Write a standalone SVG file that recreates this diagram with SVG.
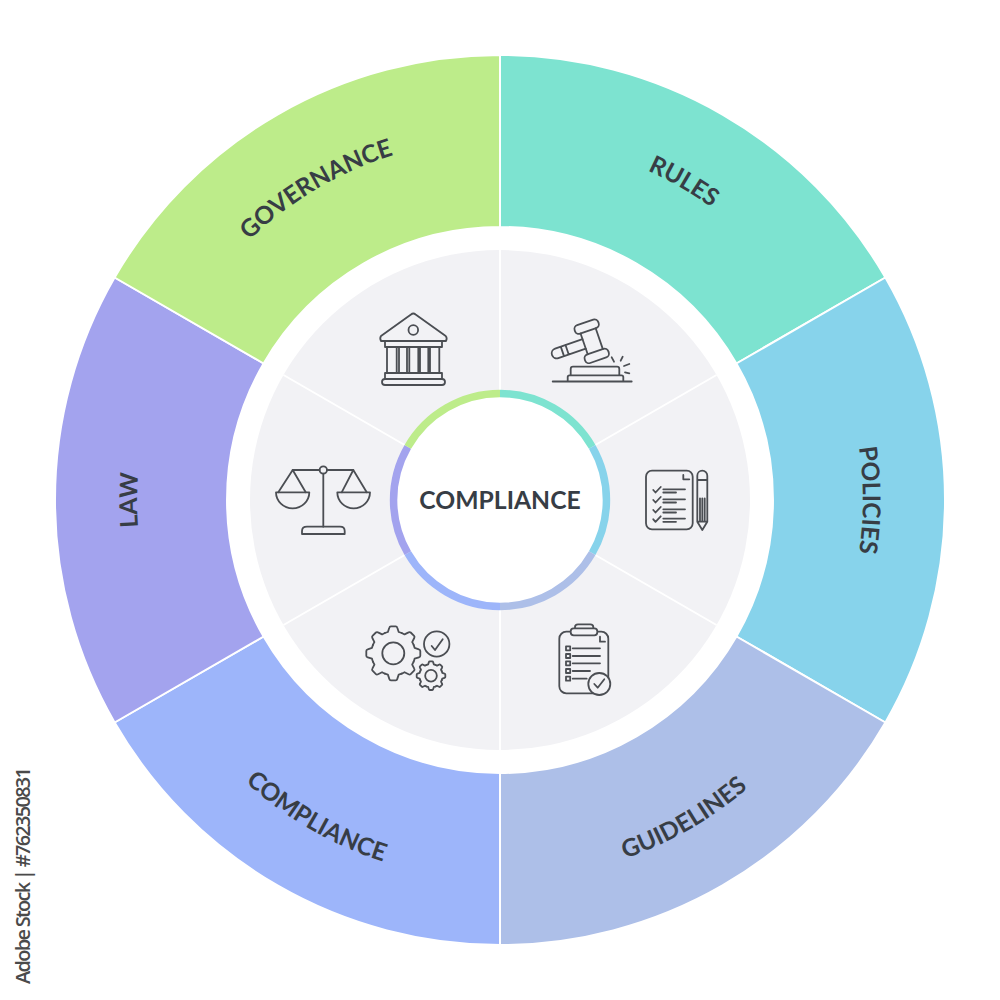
<svg xmlns="http://www.w3.org/2000/svg" xmlns:xlink="http://www.w3.org/1999/xlink" width="1000" height="1000" viewBox="0 0 1000 1000">
<style>
.lbl{font-family:"Lato","Liberation Sans",sans-serif;font-weight:700;font-size:24.5px;fill:#373d45;text-anchor:middle}
.ic{fill:none;stroke:#4b4e53;stroke-width:1.8;stroke-linejoin:round;stroke-linecap:round}
.ring{fill:none;stroke-width:7.5}
.sep{stroke:#fff;stroke-width:2;fill:none}
</style>
<defs>
<path id="a1" d="M193.9 308.7A361 361 0 0 1 487.4 139.2"/>
<path id="a2" d="M512.6 139.2A361 361 0 0 1 806.1 308.7"/>
<path id="a3" d="M820.5 329.8A363 363 0 0 1 820.5 670.2"/>
<path id="a4" d="M513.3 879.8A380 380 0 0 0 822.2 701.4"/>
<path id="a5" d="M177.8 701.4A380 380 0 0 0 486.7 879.8"/>
<path id="a6" d="M179.5 670.2A363 363 0 0 1 179.5 329.8"/>
<path id="tooth" d="M-8.42 -20.33A22 22 0 0 1 -5.4 -21.3L-4 -25.6Q-3.6 -27 -2.4 -27H2.4Q3.6 -27 4 -25.6L5.4 -21.3A22 22 0 0 1 8.42 -20.33"/>
<g id="gear">
<use href="#tooth"/><use href="#tooth" transform="rotate(45)"/><use href="#tooth" transform="rotate(90)"/><use href="#tooth" transform="rotate(135)"/><use href="#tooth" transform="rotate(180)"/><use href="#tooth" transform="rotate(225)"/><use href="#tooth" transform="rotate(270)"/><use href="#tooth" transform="rotate(315)"/>
<circle r="11"/>
</g>
</defs>
<rect width="1000" height="1000" fill="#fff"/>
<circle cx="500" cy="500" r="250" fill="#f2f2f5"/>

<g id="connectors" class="sep">
<path d="M500 250V390M716.5 375L595.3 445M716.5 625L595.3 555M500 750V610M283.5 625L404.7 555M283.5 375L404.7 445"/>
</g>

<circle cx="500" cy="500" r="104" fill="#fff"/>

<g id="rules">
<path d="M500 55A445 445 0 0 1 885.4 277.5L736.4 363.5A273 273 0 0 0 500 227Z" fill="#7de3d0" stroke="#fff" stroke-width="2"/>
<path class="ring" stroke="#7de3d0" d="M500 393.5A106.5 106.5 0 0 1 592.2 446.8"/>
<text class="lbl"><textPath href="#a2" startOffset="50%">RULES</textPath></text>
<g class="ic">
<g transform="translate(591.7 341.3) rotate(-19)">
<rect x="-12.5" y="-20" width="25" height="9" rx="4"/>
<rect x="-12.5" y="11" width="25" height="9" rx="4"/>
<path d="M-8 -11V11M8 -11V11"/>
<path d="M-8 -5H-37A5 5 0 0 0 -37 5H-8M-31 -5V5M-26 -5V5"/>
</g>
<path d="M567.7 381V377Q567.7 375.3 569.5 375.3H621.5Q623.3 375.3 623.3 377V381M570.7 375.3V369Q570.7 366.7 573 366.7H617Q619.3 366.7 619.3 369V375.3M552.7 381.5H631.7"/>
<path d="M611.7 357.3L614 361.7M622.7 356.7L620.7 360.7M629.3 364L624 366M629.3 373.3L625 372.3"/>
</g>
</g>

<g id="policies">
<path d="M885.4 277.5A445 445 0 0 1 885.4 722.5L736.4 636.5A273 273 0 0 0 736.4 363.5Z" fill="#87d3eb" stroke="#fff" stroke-width="2"/>
<path class="ring" stroke="#87d3eb" d="M592.2 446.8A106.5 106.5 0 0 1 592.2 553.2"/>
<text class="lbl"><textPath href="#a3" startOffset="50%">POLICIES</textPath></text>
<g class="ic">
<rect x="646" y="470.7" width="46.7" height="58.6" rx="6"/>
<path d="M683.3 475V479.3H689.3"/>
<path d="M653.3 490L655.5 492.5L660.7 487M653.3 500L655.5 502.5L660.7 497M653.3 510L655.5 512.5L660.7 507M653.3 519.3L655.5 521.8L660.7 516.3"/>
<path d="M663.3 489.3H685M663.3 492.5H676M663.3 499.3H685M663.3 502.5H676M663.3 509.3H685M663.3 512.5H676M663.3 518.6H685M663.3 521.8H676"/>
<path d="M697.3 521.7V475.7A5 5 0 0 1 707.3 475.7V521.7L702.3 530ZM697.3 480H707.3M697.3 521.7H707.3M700 498.3V521.7M702.3 498.3V521.7M704.7 498.3V521.7"/>
</g>
</g>

<g id="guidelines">
<path d="M885.4 722.5A445 445 0 0 1 500 945V773A273 273 0 0 0 736.4 636.5Z" fill="#adbfe8" stroke="#fff" stroke-width="2"/>
<path class="ring" stroke="#adbfe8" d="M592.2 553.2A106.5 106.5 0 0 1 500 606.5"/>
<text class="lbl"><textPath href="#a4" startOffset="50%">GUIDELINES</textPath></text>
<g class="ic">
<rect x="559.3" y="631.7" width="49" height="61.6" rx="7"/>
<path d="M575 632V627Q575 624.3 578 624.3H590.3Q593.3 624.3 593.3 627V632" fill="#f2f2f5"/>
<rect x="570.7" y="628.3" width="26.6" height="7" rx="3" fill="#f2f2f5"/>
<path d="M600 636.7V641.7H605"/>
<rect x="566" y="646.3" width="4.2" height="4"/><rect x="566" y="654" width="4.2" height="4"/><rect x="566" y="661.3" width="4.2" height="4"/><rect x="566" y="669" width="4.2" height="4"/><rect x="566" y="676.7" width="4.2" height="4"/>
<path d="M572.7 648.3H600M572.7 656H600M572.7 663.3H600M572.7 671H590M572.7 678.7H586.7"/>
<circle cx="599.3" cy="684" r="11" fill="#f2f2f5"/>
<path d="M594.3 684L597.7 687.7L604.3 679.3"/>
</g>
</g>

<g id="compliance">
<path d="M500 945A445 445 0 0 1 114.6 722.5L263.6 636.5A273 273 0 0 0 500 773Z" fill="#9db5fa" stroke="#fff" stroke-width="2"/>
<path class="ring" stroke="#9db5fa" d="M500 606.5A106.5 106.5 0 0 1 407.8 553.2"/>
<text class="lbl"><textPath href="#a5" startOffset="50%">COMPLIANCE</textPath></text>
<g class="ic">
<use href="#gear" transform="translate(393.3 653.3)"/>
<use href="#gear" transform="translate(431 675.7) scale(.53)" stroke-width="3.4"/>
<circle cx="436.7" cy="644" r="12.7"/>
<path d="M431.7 646L435 650L442.7 639.3"/>
</g>
</g>

<g id="law">
<path d="M114.6 722.5A445 445 0 0 1 114.6 277.5L263.6 363.5A273 273 0 0 0 263.6 636.5Z" fill="#a3a3ee" stroke="#fff" stroke-width="2"/>
<path class="ring" stroke="#a3a3ee" d="M407.8 553.2A106.5 106.5 0 0 1 407.8 446.8"/>
<text class="lbl"><textPath href="#a6" startOffset="50%">LAW</textPath></text>
<g class="ic">
<path d="M292.7 470H319.6M327 470H353.3M323.3 473.7V526.7"/>
<circle cx="323.3" cy="470" r="3.7"/>
<path d="M302 534V531Q302 526.7 307 526.7H340Q344.7 526.7 344.7 531V534Z"/>
<path d="M278.3 492.3L292.7 470L305.7 492.3M341.7 492.3L353.3 470L366.7 492.3"/>
<path d="M276 492.3H309.3A16.65 16 0 0 1 276 492.3ZM337.3 492.3H370A16.35 16 0 0 1 337.3 492.3Z"/>
</g>
</g>

<g id="governance">
<path d="M114.6 277.5A445 445 0 0 1 500 55V227A273 273 0 0 0 263.6 363.5Z" fill="#bdec8a" stroke="#fff" stroke-width="2"/>
<path class="ring" stroke="#bdec8a" d="M407.8 446.8A106.5 106.5 0 0 1 500 393.5"/>
<text class="lbl"><textPath href="#a1" startOffset="49%">GOVERNANCE</textPath></text>
<g class="ic">
<path d="M411 314.5Q413.3 312.5 415.6 314.5L445.7 336Q447.5 338 446 341H381Q379.5 338 381 336Z"/>
<circle cx="413.3" cy="330" r="4.8"/>
<rect x="385" y="341" width="57" height="6"/>
<path d="M387 347V373M396.7 347V373M399 347V373M407 347V373M409.3 347V373M418.3 347V373M420 347V373M428.3 347V373M430 347V373M439.3 347V373"/>
<rect x="385" y="373" width="57" height="6"/>
<rect x="382" y="379" width="63" height="6" rx="3"/>
</g>
</g>

<g id="center">
<text x="500" y="508.5" font-family="Lato,'Liberation Sans',sans-serif" font-weight="700" font-size="24.7" fill="#373d45" text-anchor="middle">COMPLIANCE</text>
</g>

<text transform="translate(30 984) rotate(-90)" font-family="'Open Sans','Liberation Sans',sans-serif" font-weight="600" font-size="20" fill="#4a4a4a" textLength="217">Adobe Stock | #762350831</text>
</svg>
